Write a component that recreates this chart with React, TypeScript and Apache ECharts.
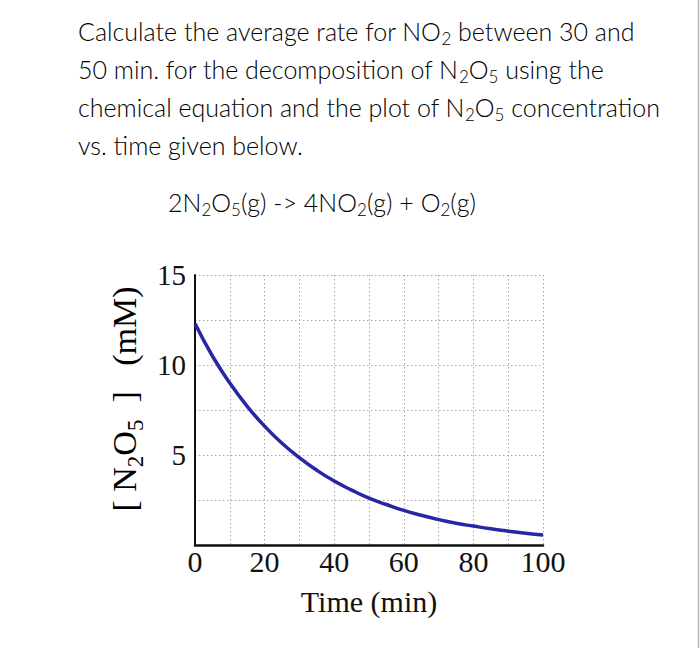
import React, { useEffect, useRef } from "react";
import * as echarts from "echarts";

const timeMin = [0, 5, 10, 15, 20, 25, 30, 35, 40, 45, 50, 55, 60, 65, 70, 75, 80, 85, 90, 95, 100];
const n2o5mM = [12.3, 10.5, 9.0, 7.7, 6.6, 5.65, 4.85, 4.15, 3.55, 3.05, 2.6, 2.25, 1.92, 1.65, 1.41, 1.21, 1.05, 0.9, 0.77, 0.65, 0.55];
const xTickLabels = [0, 20, 40, 60, 80, 100];
const yTickLabels = [5, 10, 15];

const questionLines = [
  "{a|Calculate the average rate for NO}{s|2}{a| between 30 and}",
  "{a|50 min. for the decomposition of N}{s|2}{a|O}{s|5}{a| using the}",
  "{a|chemical equation and the plot of N}{s|2}{a|O}{s|5}{a| concentration}",
  "{a|vs. time given below.}",
];
const equation = "{a|2N}{s|2}{a|O}{s|5}{a|(g) -> 4NO}{s|2}{a|(g) + O}{s|2}{a|(g)}";
const yName = "{a|[ N}{s|2}{a|O}{s|5}{a|  ]   (mM)}";
const xName = "Time (min)";

const SERIF = "'Liberation Serif', 'Times New Roman', serif";
const SANS = "Lato, 'Noto Sans', sans-serif";
const TEXT_GRAY = "#555555";

export default function App() {
  const ref = useRef<HTMLDivElement>(null);
  useEffect(() => {
    document.body.style.margin = "0";
    const chart = echarts.init(ref.current!, null, { renderer: "svg" });
    const sansRich = {
      a: { fontFamily: SANS, fontSize: 25, fontWeight: 300, color: TEXT_GRAY },
      s: { fontFamily: SANS, fontSize: 17, fontWeight: 300, color: TEXT_GRAY, padding: [15, 0, 0, 0] },
    };
    const lineYs = [31, 69, 107, 145];
    const graphics: any[] = questionLines.map((t, i) => ({
      type: "text",
      x: 78,
      y: lineYs[i],
      style: { text: t, rich: sansRich, align: "left", verticalAlign: "middle" },
    }));
    graphics.push({
      type: "text",
      x: 168,
      y: 202,
      style: { text: equation, rich: sansRich, align: "left", verticalAlign: "middle" },
    });
    graphics.push({
      type: "text",
      x: 124,
      y: 399,
      rotation: Math.PI / 2,
      style: {
        text: yName,
        align: "center",
        verticalAlign: "middle",
        rich: {
          a: { fontFamily: SERIF, fontSize: 34, color: "#111" },
          s: { fontFamily: SERIF, fontSize: 23, color: "#111", padding: [22, 0, 0, 0] },
        },
      },
    });
    graphics.push({
      type: "line",
      shape: { x1: 698.5, y1: 0, x2: 698.5, y2: 648 },
      style: { stroke: "#b5b5b5", lineWidth: 1.5 },
    });

    const splitStyle = { show: true, lineStyle: { color: "#a8a8a8", width: 1, type: [1.5, 2.5] } };
    chart.setOption({
      animation: false,
      backgroundColor: "#ffffff",
      grid: { left: 195, right: 157, top: 275, bottom: 103 },
      graphic: graphics,
      xAxis: {
        type: "value",
        min: 0,
        max: 100,
        interval: 10,
        name: xName,
        nameLocation: "middle",
        nameGap: 41,
        nameTextStyle: { fontFamily: SERIF, fontSize: 30, color: "#111" },
        axisLine: { show: true, lineStyle: { color: "#111", width: 2.5 } },
        axisTick: { show: false },
        splitLine: splitStyle,
        axisLabel: {
          fontFamily: SERIF,
          fontSize: 30,
          color: "#111",
          margin: 1,
          showMinLabel: true,
          showMaxLabel: true,
          formatter: (v: number) => (xTickLabels.includes(v) ? String(v) : ""),
        },
      },
      yAxis: {
        type: "value",
        min: 0,
        max: 15,
        interval: 2.5,
        axisLine: { show: true, lineStyle: { color: "#111", width: 2 } },
        axisTick: { show: false },
        splitLine: splitStyle,
        axisLabel: {
          fontFamily: SERIF,
          fontSize: 29,
          color: "#111",
          margin: 9,
          formatter: (v: number) => (yTickLabels.includes(v) ? String(v) : ""),
        },
      },
      series: [
        {
          type: "line",
          data: timeMin.map((t, i) => [t, n2o5mM[i]]),
          showSymbol: false,
          smooth: true,
          lineStyle: { color: "#2626a6", width: 3.5 },
          z: 5,
        },
      ],
    });
    return () => chart.dispose();
  }, []);
  return <div ref={ref} style={{ width: 700, height: 648 }} />;
}
